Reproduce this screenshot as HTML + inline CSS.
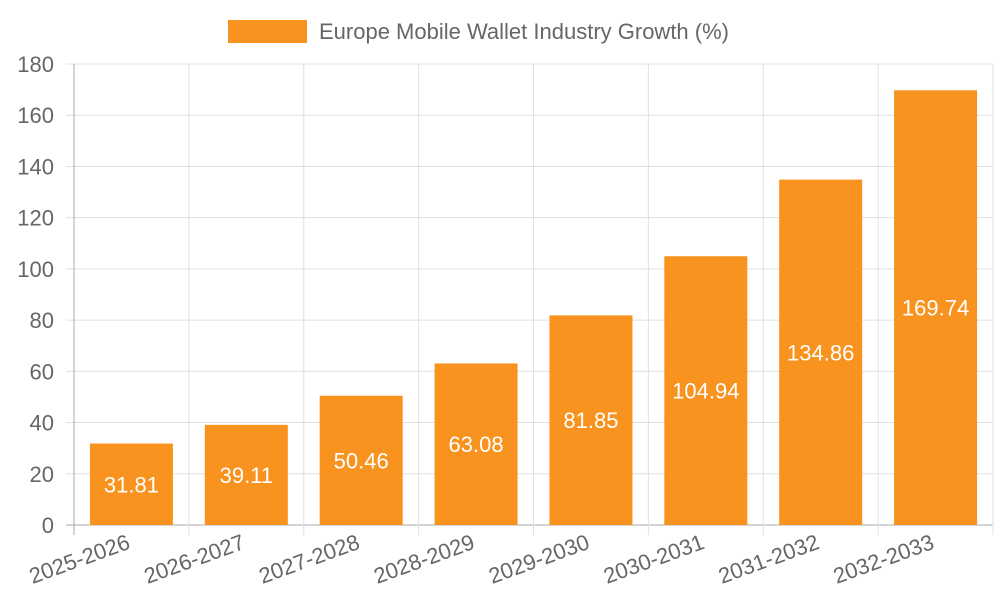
<!DOCTYPE html>
<html><head><meta charset="utf-8"><style>
body{margin:0;background:#fff;}
svg{display:block;font-family:"Liberation Sans",sans-serif;}
</style></head><body>
<svg width="1000" height="600">
<g id="grid"></g><g id="bars"></g><g id="axes"></g>
<g>
<rect x="228" y="20" width="79" height="23" fill="#f7931e"/>
<text x="319" y="39" font-size="22" fill="#666">Europe Mobile Wallet Industry Growth (%)</text>
</g>
</svg>
<script>
const categories=["2025-2026","2026-2027","2027-2028","2028-2029","2029-2030","2030-2031","2031-2032","2032-2033"];
const values=[31.81,39.11,50.46,63.08,81.85,104.94,134.86,169.74];
const yTicks=[0,20,40,60,80,100,120,140,160,180];
const L=74,R=993,T=64,B=525,yMax=180;
const NS="http://www.w3.org/2000/svg";
const bw=(R-L)/categories.length;
const y=v=>B-(v/yMax)*(B-T);
const x=i=>L+i*bw;
function mk(tag,attrs,parent,txt){const e=document.createElementNS(NS,tag);for(const k in attrs)e.setAttribute(k,attrs[k]);if(txt!==undefined)e.textContent=txt;document.getElementById(parent).appendChild(e);return e;}
yTicks.forEach(t=>{
 const g=mk('line',{x1:66,x2:R,y1:y(t),y2:y(t),stroke:t===0?'#aaa':'#e0e0e0','stroke-width':1},'grid');
 
 
 const l=mk('text',{x:54,y:y(t)+8,'font-size':22,fill:'#666','text-anchor':'end'},'axes',t);
 
 
});
for(let i=0;i<=categories.length;i++){
 const g=mk('line',{x1:x(i),x2:x(i),y1:T,y2:B+10,stroke:i===0?'#aaa':'#e0e0e0','stroke-width':1},'grid');
 
 
}
categories.forEach((c,i)=>{
 const cx=x(i)+bw/2,w=83;
 const r=mk('rect',{x:cx-w/2,y:y(values[i]),width:w,height:B-y(values[i]),fill:'#f7931e'},'bars');
 
 
 const v=mk('text',{x:cx,y:(y(values[i])+B)/2+8,'font-size':22,fill:'#fff','text-anchor':'middle'},'bars',values[i].toFixed(2));
 
 
 const t=mk('text',{x:cx,y:548,'font-size':22,fill:'#666','text-anchor':'end',transform:`rotate(-20 ${cx} 548)`},'axes',c);
 
 
});
</script>
</body></html>
